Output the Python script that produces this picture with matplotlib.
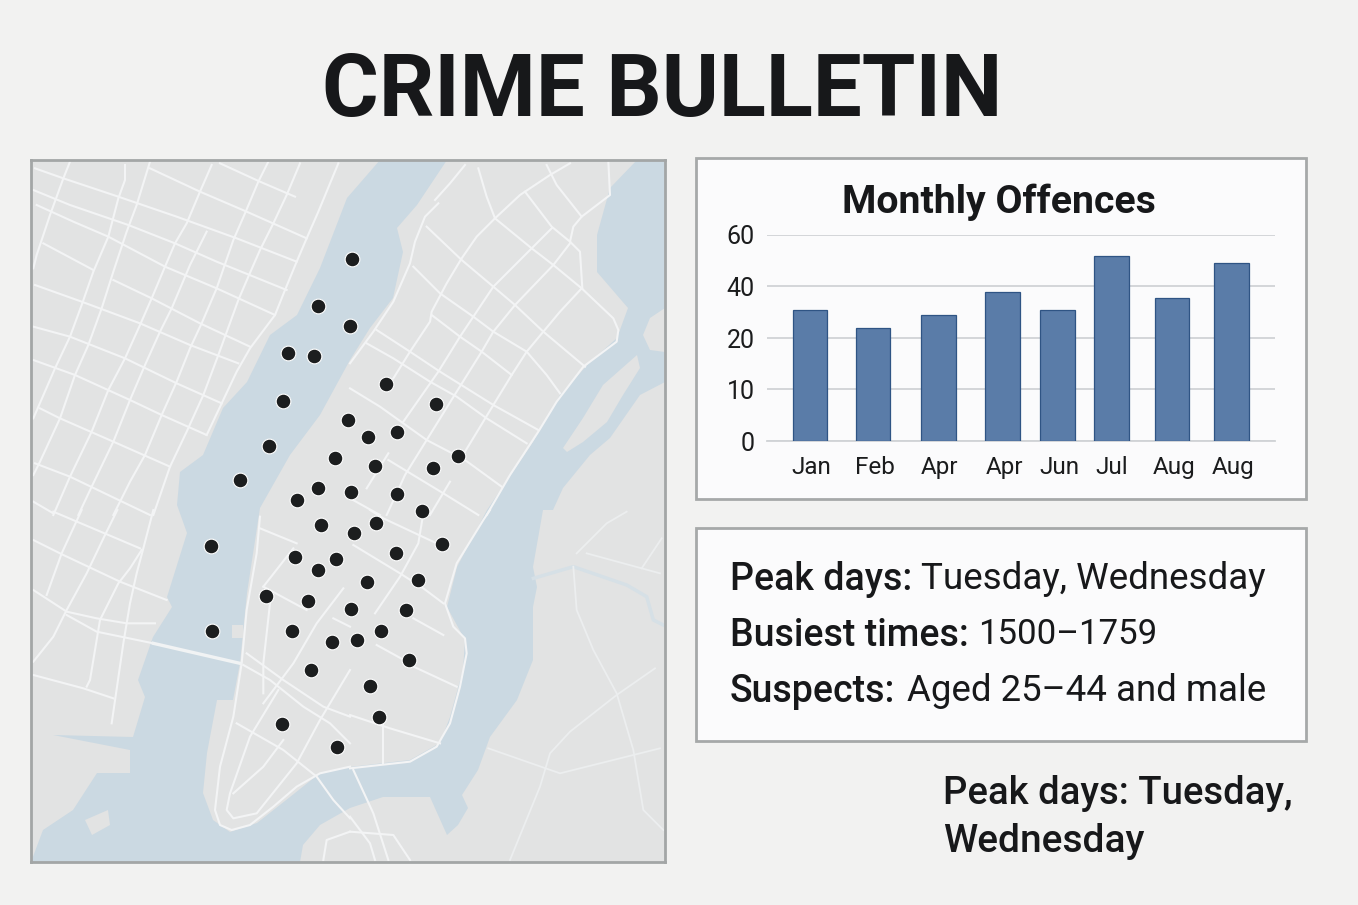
import numpy as np
from matplotlib import pyplot as plt
from matplotlib.patches import Polygon, Rectangle

W, H = 1358, 905

# monthly offences
months = ['Jan', 'Feb', 'Apr', 'Apr', 'Jun', 'Jul', 'Aug', 'Aug']
offences = [31, 24, 29, 38, 31, 52, 35.5, 49]
bar_pos = [810, 873, 938.5, 1002.5, 1057.5, 1111.5, 1172, 1231.5]
label_pos = [811, 875, 939, 1004, 1059, 1112, 1174, 1233]
y_ticks = [0, 10, 20, 40, 60]

# incident points on the map
crime_x = [352, 318, 350, 288, 314, 386, 283, 436, 348, 368, 397, 269, 335, 375, 433, 458,
           240, 318, 297, 351, 397, 422, 321, 376, 354, 442, 211, 295, 336, 318, 396, 418,
           367, 266, 308, 351, 406, 212, 292, 332, 357, 381, 409, 311, 370, 379, 282, 337]
crime_y = [259, 306, 326, 353, 356, 384, 401, 404, 420, 437, 432, 446, 458, 466, 468, 456,
           480, 488, 500, 492, 494, 511, 525, 523, 533, 544, 546, 557, 559, 570, 553, 580,
           582, 596, 601, 609, 610, 631, 631, 642, 640, 631, 660, 670, 686, 717, 724, 747]

# base map shapes, in picture pixels
water = [(380, 160), (347, 198), (320, 268), (297, 315), (270, 335), (247, 382), (223, 408),
         (203, 455), (180, 472), (177, 505), (187, 533), (167, 597), (172, 607), (153, 637),
         (138, 680), (145, 697), (133, 737), (53, 735), (130, 750), (130, 773), (97, 773),
         (73, 810), (43, 830), (31, 862), (300, 862), (303, 845), (320, 825), (350, 808),
         (383, 797), (430, 797), (447, 835), (458, 825), (468, 808), (462, 795), (478, 770),
         (490, 737), (517, 700), (533, 660), (533, 607), (537, 587), (533, 567), (543, 510),
         (553, 510), (563, 488), (590, 455), (610, 438), (640, 395), (665, 382), (665, 160)]
manhattan = [(447, 160), (417, 205), (397, 228), (403, 252), (393, 298), (370, 328), (350, 360),
             (320, 415), (290, 455), (260, 508), (247, 593), (240, 663), (233, 700), (217, 700),
             (207, 753), (203, 793), (213, 820), (230, 832), (257, 823), (290, 797), (320, 773),
             (350, 767), (410, 760), (440, 743), (450, 717), (463, 670), (465, 640), (447, 607),
             (457, 567), (487, 510), (533, 442), (560, 395), (590, 362), (617, 338), (628, 308),
             (597, 272), (597, 235), (610, 188), (637, 160)]
island = [(563, 448), (583, 418), (603, 385), (637, 355), (640, 368), (623, 395), (607, 422), (583, 442), (567, 452)]
east_land = [(665, 308), (650, 318), (643, 335), (650, 350), (665, 352)]
pier = [(232, 625), (243, 625), (243, 638), (232, 638)]
islet = [(85, 820), (108, 810), (110, 825), (92, 835)]

streets_nw = [
    [(120, 20), (100, 70), (60, 180), (20, 300), (10, 340)],
    [(285, 30), (285, 75), (265, 130), (235, 245), (190, 350), (155, 450), (120, 545), (75, 640), (10, 790)],
    [(360, 20), (320, 150), (290, 230), (250, 350), (215, 460), (175, 570), (135, 660), (90, 790), (30, 920), (10, 960)],
    [(545, 30), (510, 110), (470, 205), (435, 265), (405, 335), (365, 430), (330, 510), (285, 610), (235, 705), (185, 830), (120, 965), (70, 1080)],
    [(715, 20), (685, 80), (645, 175), (610, 255), (560, 400), (515, 505), (480, 580), (440, 680), (395, 780), (345, 900), (300, 980), (250, 1080)],
    [(810, 25), (770, 120), (730, 205), (690, 285), (655, 365), (625, 435), (565, 600), (520, 720), (470, 830), (420, 935), (370, 1080)],
    [(530, 230), (480, 330), (425, 460), (390, 530), (345, 630), (300, 735), (250, 860), (185, 995), (145, 1080)],
    [(925, 25), (865, 170), (830, 250), (800, 320), (765, 405), (735, 480), (660, 580), (620, 650), (575, 745), (530, 840)],
    [(15, 40), (100, 70), (265, 125), (440, 185), (620, 250), (800, 320)],
    [(10, 105), (120, 150), (295, 210), (435, 265), (560, 320), (770, 405)],
    [(20, 150), (130, 200), (235, 245), (405, 335), (560, 400), (735, 480)],
    [(360, 40), (510, 110), (650, 170), (830, 250)],
    [(570, 25), (690, 80), (795, 125)],
    [(40, 265), (190, 345)],
    [(250, 375), (365, 430), (510, 505), (660, 575)],
    [(15, 390), (155, 440), (330, 505), (480, 570), (625, 625)],
    [(10, 515), (120, 545), (285, 610), (440, 685), (575, 745)],
    [(10, 615), (135, 660), (300, 735), (395, 780), (530, 840)],
    [(30, 760), (90, 790), (250, 860), (420, 935)],
    [(15, 925), (120, 965), (245, 1025), (360, 1080)],
    [(10, 1040), (70, 1075)],
]
streets_ne = [
    [(0, 625), (70, 530), (130, 440), (180, 325), (195, 260), (225, 185), (265, 145)],
    [(345, 30), (300, 85), (255, 135)],
    [(385, 40), (410, 125), (435, 190), (510, 120), (600, 60), (660, 25)],
    [(590, 30), (620, 90), (695, 185), (780, 120), (775, 20)],
    [(695, 185), (670, 215), (660, 260), (690, 290), (697, 400)],
    [(435, 190), (380, 245), (335, 310), (290, 385), (245, 470), (240, 500), (180, 590), (130, 670)],
    [(230, 215), (335, 315), (430, 395), (495, 450), (580, 530), (705, 635)],
    [(435, 190), (545, 280), (610, 330), (695, 400), (790, 490), (805, 525), (800, 560), (700, 635), (620, 740), (565, 830), (480, 960), (410, 1080)],
    [(525, 110), (605, 215), (660, 260)],
    [(605, 220), (545, 280), (430, 395), (370, 485), (330, 545), (265, 650), (160, 800)],
    [(660, 265), (610, 330), (495, 450), (430, 530), (395, 590), (320, 710), (230, 855), (165, 960), (110, 1080)],
    [(695, 400), (630, 470), (580, 530), (530, 590), (485, 660), (430, 750), (345, 890)],
    [(190, 335), (270, 415), (370, 485), (430, 530), (530, 590), (590, 660), (630, 715)],
    [(245, 480), (330, 545), (395, 590), (485, 660)],
    [(80, 525), (180, 590), (270, 650), (430, 750), (565, 825)],
    [(50, 565), (130, 610), (240, 680), (320, 725), (410, 790), (530, 865)],
    [(0, 700), (90, 755), (230, 855), (345, 915), (455, 995)],
    [(115, 915), (280, 1015), (385, 1080)],
    [(0, 1030), (90, 1080)],
    [(115, 895), (50, 1000)],
    [(300, 980), (240, 1080)],
]
streets_sw = [
    [(690, 20), (680, 130), (650, 300), (635, 460), (610, 620), (570, 770), (555, 900), (570, 945), (605, 960), (660, 945), (730, 890), (800, 830), (870, 790), (960, 770)],
    [(620, 640), (760, 720), (860, 800), (910, 870), (960, 925)],
    [(745, 540), (660, 680), (600, 850), (590, 900), (610, 925), (680, 910), (800, 760), (870, 630), (960, 480)],
    [(760, 690), (700, 770), (610, 850)],
    [(720, 280), (700, 460), (700, 550)],
    [(650, 430), (760, 510), (880, 590), (960, 620)],
    [(640, 465), (720, 510), (820, 590), (900, 640), (960, 700)],
    [(790, 115), (700, 230)],
    [(690, 55), (800, 100)],
    [(700, 230), (830, 300)],
    [(940, 235), (860, 340), (790, 460), (700, 580)],
    [(910, 325), (960, 350)],
    [(70, 5), (330, 115)],
    [(155, 0), (95, 130), (50, 255)],
    [(262, 0), (225, 75), (170, 190), (110, 300), (70, 380), (10, 455)],
    [(370, 0), (340, 115), (320, 190), (300, 280), (280, 400), (245, 640)],
    [(335, 120), (300, 175), (265, 220), (210, 330), (180, 510), (170, 530)],
    [(10, 90), (100, 135), (270, 215), (410, 270)],
    [(10, 240), (110, 305), (200, 325), (290, 340), (375, 340)],
    [(110, 315), (200, 365), (370, 400)],
    [(10, 495), (160, 535), (250, 565)],
    [(880, 1050), (890, 990), (960, 965)],
]
bridge = [(370, 400), (630, 460)]
streets_se = [
    [(0, 775), (180, 755), (260, 710), (300, 640), (330, 530), (350, 430), (345, 385), (310, 350), (285, 280), (320, 160), (400, 30), (420, 0)],
    [(0, 615), (120, 655), (270, 700)],
    [(100, 640), (100, 760)],
    [(180, 465), (320, 530)],
    [(80, 405), (180, 460)],
    [(10, 105), (150, 190), (220, 235), (280, 280)],
    [(190, 325), (280, 375)],
    [(220, 10), (205, 100), (150, 200), (75, 310)],
    [(60, 0), (100, 25), (260, 100)],
    [(10, 780), (70, 910), (115, 1050)],
    [(0, 920), (60, 1000), (75, 1050)],
    [(0, 965), (130, 975), (180, 1050)],
]
streets_far = [
    [(670, 170), (680, 300), (730, 420), (800, 550), (850, 720), (880, 900), (940, 960)],
    [(915, 475), (800, 555), (660, 665), (600, 730), (570, 830), (480, 1050)],
    [(415, 715), (630, 790), (930, 715)],
    [(680, 130), (770, 40), (830, 5)],
    [(710, 130), (930, 190)],
    [(875, 175), (935, 85)],
]
creek = [(550, 205), (670, 170), (830, 225), (890, 260), (910, 330), (940, 345)]


def box(x, y, w, h):
    return [x / W, 1 - (y + h) / H, w / W, h / H]


def crop(line, x0, y0):
    return [x0 + p[0] / 3 for p in line], [y0 + p[1] / 3 for p in line]


def put(x, y, s, size, weight='normal', ha='left'):
    fig.text(x / W, 1 - y / H, s, fontsize=size, fontweight=weight, ha=ha, va='center',
             color='#17181a', family='Roboto')


def panel(x, y, w, h):
    fig.add_artist(Rectangle((x / W, 1 - (y + h) / H), w / W, h / H, transform=fig.transFigure,
                             facecolor='#fbfbfc', edgecolor='#a6a9a9', linewidth=2, zorder=-1))


fig = plt.figure(figsize=(W / 100, H / 100), dpi=100, facecolor='#f2f2f1')

# map
ax = fig.add_axes(box(31, 160, 634, 702))
ax.set_facecolor('#e2e3e3')
ax.add_patch(Polygon(water, facecolor='#cbd9e2', edgecolor='none'))
for shape in [manhattan, island, east_land, pier, islet]:
    ax.add_patch(Polygon(shape, facecolor='#e2e3e3', edgecolor='none'))

xs, ys = crop(creek, 350, 510)
ax.plot(xs, ys, color='#d6e0e6', linewidth=2.5)
for lines, x0, y0 in [(streets_nw, 30, 155), (streets_ne, 350, 155), (streets_sw, 30, 510), (streets_se, 350, 510)]:
    for line in lines:
        xs, ys = crop(line, x0, y0)
        ax.plot(xs, ys, color='#f3f4f5', linewidth=1.5, solid_joinstyle='round')
for line in streets_far:
    xs, ys = crop(line, 350, 510)
    ax.plot(xs, ys, color='#eceeef', linewidth=1.3)
xs, ys = crop(bridge, 30, 510)
ax.plot(xs, ys, color='#f1f3f4', linewidth=2.4)

ax.scatter(crime_x, crime_y, s=112, color='#1c1e1f', edgecolor='white', linewidth=0.8, zorder=5)
ax.set_xlim(31, 665)
ax.set_ylim(862, 160)
ax.set_xticks([])
ax.set_yticks([])
for spine in ax.spines.values():
    spine.set_color('#a3a6a6')
    spine.set_linewidth(2)

# panels
panel(696, 158, 610, 341)
panel(696, 528, 610, 213)

# bar chart, the axis spaces its labels evenly so the scale is stretched to fit
positions = np.arange(len(y_ticks))
bx = fig.add_axes(box(767, 235, 508, 206))
bx.patch.set_alpha(0)
bx.set_yscale('function', functions=(lambda v: np.interp(v, y_ticks, positions),
                                     lambda p: np.interp(p, positions, y_ticks)))
bx.bar(bar_pos, offences, width=34.5, color='#5a7ca8', edgecolor='#2f5484', linewidth=0.9, zorder=3)
bx.set_xlim(767, 1275)
bx.set_ylim(0, 60)
bx.set_yticks(y_ticks, [str(t) for t in y_ticks], fontsize=18, family='Roboto', color='#1b1c1d')
bx.set_xticks(label_pos, months, fontsize=17.5, family='Roboto', color='#1b1c1d')
bx.yaxis.set_minor_locator(plt.NullLocator())
bx.tick_params(length=0)
bx.tick_params(axis='y', pad=9)
bx.tick_params(axis='x', pad=11)
bx.grid(axis='y', color='#d0d3d6', linewidth=1.3, zorder=1)
bx.set_axisbelow(True)
for name, spine in bx.spines.items():
    spine.set_visible(name == 'bottom')
bx.spines['bottom'].set_color('#d0d3d6')
bx.spines['bottom'].set_linewidth(1.3)

# texts
put(662, 92, 'CRIME BULLETIN', 62.6, 'bold', 'center')
put(999, 202, 'Monthly Offences', 28.3, 'bold', 'center')

put(730, 579, 'Peak days:', 27, 500)
put(921, 579, 'Tuesday, Wednesday', 26.5)
put(730, 635, 'Busiest times:', 27, 500)
put(978, 635, '1500–1759', 25)
put(730, 691, 'Suspects:', 27, 500)
put(907, 691, 'Aged 25–44 and male', 26.4)

put(943, 793, 'Peak days: Tuesday,', 27.5, 500)
put(943, 841, 'Wednesday', 28, 500)

plt.savefig('out.png', dpi=100, facecolor=fig.get_facecolor())
plt.close()
